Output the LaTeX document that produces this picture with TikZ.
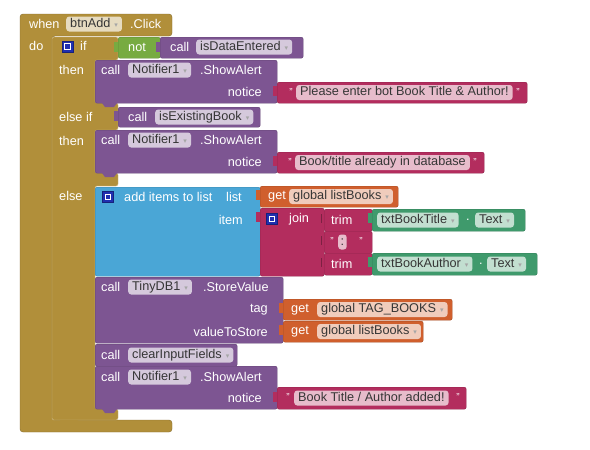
\documentclass[tikz,border=0pt]{standalone}
\usepackage{fontspec}
\setmainfont{Liberation Sans}
\newfontfamily\symfont{DejaVu Sans}
\usetikzlibrary{positioning}
\definecolor{ctrlmustard}{HTML}{B18F3A}
\definecolor{procpurple}{HTML}{7D5592}
\definecolor{textpink}{HTML}{B32D5E}
\definecolor{varorange}{HTML}{D05F2D}
\definecolor{listblue}{HTML}{4AA6D6}
\definecolor{logicgreen}{HTML}{77AB41}
\definecolor{compgreen}{HTML}{3F9A6C}
\definecolor{mutblue}{HTML}{1F2FB0}
\definecolor{fieldtext}{HTML}{363636}
\newcommand{\dd}{\hspace{4pt}{\symfont\fontsize{7}{7}\selectfont\color{black!35}▾}}
\tikzset{
  lbl/.style={anchor=west, inner sep=0pt, text=white,
    font=\fontsize{12.7}{14}\selectfont},
  fld/.style={anchor=west, rectangle, rounded corners=3pt,
    fill=#1!32!white, text=fieldtext, inner xsep=4pt, inner ysep=1.5pt,
    text height=9pt, text depth=3pt, font=\fontsize{12.7}{14}\selectfont},
  blk/.style={anchor=north west, rectangle, rounded corners=2pt,
    fill=#1, draw=#1!80!black, line width=0.4pt, inner sep=0pt},
  quo/.style={anchor=center, inner sep=0pt, text=white,
    font=\fontsize{10}{10}\selectfont},
  mut/.style={rectangle, fill=mutblue, draw=mutblue!70!black,
    minimum size=11pt, inner sep=0pt,
    path picture={\draw[white, line width=0.9pt]
      ([shift={(2.6pt,2.6pt)}]path picture bounding box.south west) rectangle
      ([shift={(-2.6pt,-2.6pt)}]path picture bounding box.north east);}}
}

\begin{document}
\begin{tikzpicture}[x=1pt, y=-1pt]
    \useasboundingbox (0,0) rectangle (590,450);

    % when btnAdd.Click
    \filldraw[fill=ctrlmustard, draw=ctrlmustard!75!black, rounded corners=3pt]
      (20,14) -- (172,14) -- (172,36) -- (52,36) -- (52,420) -- (172,420)
      -- (172,432) -- (20,432) -- cycle;
    \node[lbl] (when) at (29,24) {when};
    \node[fld=ctrlmustard] (btnAdd) at (66,24) {btnAdd\dd};
    \node[lbl] (click) at (130,24) {.Click};
    \node[lbl] (do) at (29,46) {do};

    % if / else if / else
    \filldraw[fill=ctrlmustard, draw=ctrlmustard!60!white, rounded corners=2pt]
      (52,37) -- (118,37) -- (118,60) -- (95,60) -- (95,103) -- (118,103)
      -- (118,130) -- (95,130) -- (95,173) -- (118,173) -- (118,186)
      -- (95,186) -- (95,409) -- (118,409) -- (118,420) -- (52,420) -- cycle;
    \fill[ctrlmustard] (60,420) -- (63,424) -- (75,424) -- (78,420) -- cycle;
    \node[mut] (ifMut) at (67.5,46.5) {};
    \node[lbl] (ifLbl) at (80,46) {if};
    \node[lbl] (then1) at (59,70) {then};
    \node[lbl] (elseif) at (59,117) {else if};
    \node[lbl] (then2) at (59,141) {then};
    \node[lbl] (else) at (59,196) {else};

    % not isDataEntered
    \fill[logicgreen] (114,42) rectangle (118,52);
    \node[blk=logicgreen, minimum width=42pt, minimum height=21pt] (notBlk) at (118,37) {};
    \node[lbl] (notLbl) at (128,47) {not};
    \fill[procpurple] (156,42) rectangle (160,52);
    \node[blk=procpurple, minimum width=143pt, minimum height=21pt] (dataCall) at (160,37) {};
    \node[lbl] (dataCallLbl) at (170,47) {call};
    \node[fld=procpurple] (dataFld) at (196,47) {isDataEntered\dd};

    % ShowAlert 1
    \node[blk=procpurple, minimum width=182pt, minimum height=43pt] (alert1) at (95,60) {};
    \fill[procpurple] (102,103) -- (105,107) -- (114,107) -- (117,103) -- cycle;
    \node[lbl] (alert1Call) at (101,70) {call};
    \node[fld=procpurple] (alert1Fld) at (128,70) {Notifier1\dd};
    \node[lbl] (alert1Mth) at (200,70) {.ShowAlert};
    \node[lbl, anchor=east] (alert1Arg) at (262,92) {notice};
    \fill[textpink] (273,86) rectangle (277,96);
    \node[blk=textpink, minimum width=250pt, minimum height=21pt] (str1) at (277,82) {};
    \node[quo] (str1L) at (291,92) {"};
    \node[fld=textpink] (str1Fld) at (296,92.5) {Please enter bot Book Title \& Author!};
    \node[quo] (str1R) at (518,92) {"};

    % isExistingBook
    \fill[procpurple] (114,111) rectangle (118,121);
    \node[blk=procpurple, minimum width=142pt, minimum height=20pt] (bookCall) at (118,107) {};
    \node[lbl] (bookCallLbl) at (128,117) {call};
    \node[fld=procpurple] (bookFld) at (155,117) {isExistingBook\dd};

    % ShowAlert 2
    \node[blk=procpurple, minimum width=182pt, minimum height=43pt] (alert2) at (95,130) {};
    \fill[procpurple] (102,173) -- (105,177) -- (114,177) -- (117,173) -- cycle;
    \node[lbl] (alert2Call) at (101,140) {call};
    \node[fld=procpurple] (alert2Fld) at (128,140) {Notifier1\dd};
    \node[lbl] (alert2Mth) at (200,140) {.ShowAlert};
    \node[lbl, anchor=east] (alert2Arg) at (262,162) {notice};
    \fill[textpink] (273,156) rectangle (277,166);
    \node[blk=textpink, minimum width=207pt, minimum height=21pt] (str2) at (277,152) {};
    \node[quo] (str2L) at (290,162) {"};
    \node[fld=textpink] (str2Fld) at (295,162.5) {Book/title already in database};
    \node[quo] (str2R) at (475,162) {"};

    % add items to list
    \node[blk=listblue, minimum width=165pt, minimum height=89pt] (addList) at (95,187) {};
    \node[mut] (addMut) at (108,197) {};
    \node[lbl] (addLbl) at (124,197) {add items to list};
    \node[lbl] (listLbl) at (226,197) {list};
    \node[lbl, anchor=east] (itemLbl) at (243,220) {item};
    \fill[varorange] (256,190) rectangle (260,200);
    \node[blk=varorange, minimum width=138pt, minimum height=21pt] (getList) at (260,186) {};
    \node[lbl] (getListLbl) at (268,196.5) {get};
    \node[fld=varorange] (getListFld) at (289,196.5) {global listBooks\dd};

    % join
    \fill[textpink] (256,212) rectangle (260,222);
    \node[blk=textpink, minimum width=64pt, minimum height=68pt] (join) at (260,208) {};
    \node[mut] (joinMut) at (272,219) {};
    \node[lbl] (joinLbl) at (289,219) {join};
    \node[blk=textpink, minimum width=48pt, minimum height=22pt] (trim1) at (324,209) {};
    \node[lbl] (trim1Lbl) at (331,220) {trim};
    \node[blk=textpink, minimum width=48pt, minimum height=22pt] (colon) at (324,231) {};
    \node[quo] (colonL) at (332,241) {"};
    \node[fld=textpink, inner xsep=2.5pt] (colonFld) at (338,242) {:};
    \node[quo] (colonR) at (361,241) {"};
    \node[blk=textpink, minimum width=48pt, minimum height=22pt] (trim2) at (324,253) {};
    \node[lbl] (trim2Lbl) at (331,264) {trim};
    \foreach \ty in {214,236,258}
      \draw[textpink!70!black, line width=0.6pt] (321,\ty) -- (321,\ty+9);

    % txtBookTitle / txtBookAuthor
    \fill[compgreen] (368,213) rectangle (372,223);
    \node[blk=compgreen, minimum width=153pt, minimum height=22pt] (title) at (372,209) {};
    \node[fld=compgreen] (titleFld) at (377,220) {txtBookTitle\dd};
    \node[lbl] (titleDot) at (466,220) {.};
    \node[fld=compgreen] (titleTxt) at (475,220) {Text\dd};
    \fill[compgreen] (368,257) rectangle (372,267);
    \node[blk=compgreen, minimum width=165pt, minimum height=22pt] (author) at (372,253) {};
    \node[fld=compgreen] (authorFld) at (377,264) {txtBookAuthor\dd};
    \node[lbl] (authorDot) at (479,264) {.};
    \node[fld=compgreen] (authorTxt) at (487,264) {Text\dd};

    % TinyDB1.StoreValue
    \node[blk=procpurple, minimum width=188pt, minimum height=66pt] (store) at (95,277) {};
    \node[lbl] (storeCall) at (101,287) {call};
    \node[fld=procpurple] (storeFld) at (128,287) {TinyDB1\dd};
    \node[lbl] (storeMth) at (203,287) {.StoreValue};
    \node[lbl, anchor=east] (tagLbl) at (268,310) {tag};
    \node[lbl, anchor=east] (valLbl) at (268,332) {valueToStore};
    \fill[varorange] (279,303) rectangle (283,313);
    \node[blk=varorange, minimum width=169pt, minimum height=21pt] (getTag) at (283,299) {};
    \node[lbl] (getTagLbl) at (291,309.5) {get};
    \node[fld=varorange] (getTagFld) at (317,309.5) {global TAG\_BOOKS\dd};
    \fill[varorange] (279,325) rectangle (283,335);
    \node[blk=varorange, minimum width=140pt, minimum height=21pt] (getVal) at (283,321) {};
    \node[lbl] (getValLbl) at (291,331.5) {get};
    \node[fld=varorange] (getValFld) at (317,331.5) {global listBooks\dd};

    % clearInputFields
    \node[blk=procpurple, minimum width=142pt, minimum height=22pt] (clear) at (95,344) {};
    \node[lbl] (clearCall) at (101,355) {call};
    \node[fld=procpurple] (clearFld) at (128,355) {clearInputFields\dd};

    % ShowAlert 3
    \node[blk=procpurple, minimum width=182pt, minimum height=43pt] (alert3) at (95,366) {};
    \fill[procpurple] (102,409) -- (105,413) -- (114,413) -- (117,409) -- cycle;
    \node[lbl] (alert3Call) at (101,377) {call};
    \node[fld=procpurple] (alert3Fld) at (128,377) {Notifier1\dd};
    \node[lbl] (alert3Mth) at (200,377) {.ShowAlert};
    \node[lbl, anchor=east] (alert3Arg) at (262,398) {notice};
    \fill[textpink] (273,392) rectangle (277,402);
    \node[blk=textpink, minimum width=189pt, minimum height=22pt] (str3) at (277,387) {};
    \node[quo] (str3L) at (288,397) {"};
    \node[fld=textpink] (str3Fld) at (294,398) {Book Title / Author added!};
    \node[quo] (str3R) at (458,397) {"};
  \end{tikzpicture}
\end{document}
